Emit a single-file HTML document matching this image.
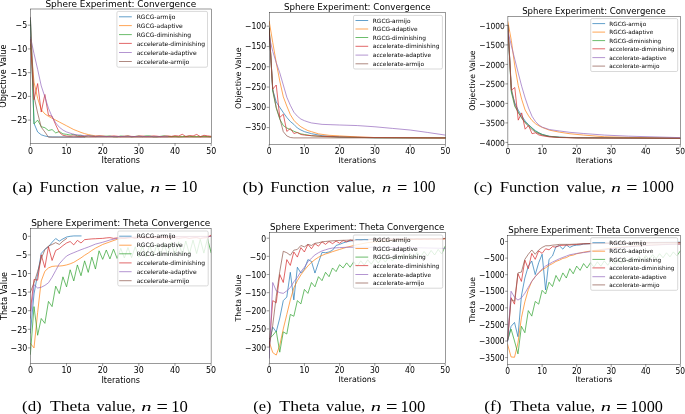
<!DOCTYPE html>
<html><head><meta charset="utf-8"><title>Sphere Experiment</title>
<style>html,body{margin:0;padding:0;background:#fff;}svg{display:block;}</style></head>
<body>
<svg width="685" height="414" viewBox="0 0 685 414">
<rect width="685" height="414" fill="#fff"/>
<g>
<clipPath id="cpa"><rect x="30.4" y="9" width="180.8" height="134.3"/></clipPath>
<g clip-path="url(#cpa)" fill="none" stroke-width="0.7" stroke-linejoin="round" stroke-linecap="square">
<polyline points="30.4,18.08 34.02,123.42 37.63,131.96 41.25,134.81 44.86,136 48.48,136.71 52.1,136.94 84.64,136.99" stroke="#1f77b4"/>
<polyline points="30.4,44.18 34.02,82.14 37.63,98.27 41.25,109.66 44.86,113.93 48.48,116.3 52.1,118.2 55.71,120.1 59.33,122 62.94,123.9 66.56,125.79 70.18,127.69 73.79,129.59 77.41,131.01 81.02,132.44 84.64,133.62 88.26,134.57 91.87,135.28 95.49,135.76 102.72,136.33 120.8,136.71 211.2,136.71" stroke="#ff7f0e"/>
<polyline points="30.4,20.45 34.02,123.9 37.63,120.1 41.25,126.74 44.86,127.69 48.48,130.54 52.1,129.59 55.71,132.91 59.33,131.49 62.94,133.86 66.56,134.33 70.18,135.05 73.79,134.33 77.41,135.76 81.02,135.28 84.64,136.74 88.26,135.93 91.87,136.03 95.49,136.61 99.1,136.33 102.72,136.39 106.34,136.16 109.95,136 113.57,136.79 117.18,136.87 120.8,135.95 124.42,136.4 128.03,136.03 131.65,136.89 135.26,136.39 138.88,136.08 142.5,136.64 146.11,135.82 149.73,135.87 153.34,136.86 156.96,136.87 160.58,136.28 164.19,135.83 167.81,136.46 171.42,136.65 175.04,136.42 178.66,136.86 182.27,136.64 185.89,136.4 189.5,136.33 193.12,136.63 196.74,136.63 200.35,136.65 203.97,136.37 207.58,136.57 211.2,136.87" stroke="#2ca02c"/>
<polyline points="30.4,39.44 34.02,99.7 37.63,83.56 41.25,112.03 44.86,94.48 48.48,115.36 52.1,116.3 55.71,124.84 59.33,132.44 62.94,135.28 66.56,136 70.18,136.29 73.79,135.85 77.41,136.27 81.02,136.6 84.64,136.1 88.26,135.9 91.87,136.46 95.49,136.51 99.1,135.94 102.72,136.03 106.34,136.58 109.95,136.34 113.57,135.86 117.18,136.22 120.8,136.61 124.42,136.15 128.03,135.88 131.65,136.41 135.26,136.55 138.88,135.98 142.5,135.99 146.11,136.55 149.73,136.4 153.34,135.87 156.96,136.16 160.58,136.61 164.19,136.21 167.81,135.86 171.42,136.35 175.04,135.62 178.66,136.02 182.27,134.29 185.89,136.52 189.5,135.5 193.12,135.89 196.74,134.45 200.35,136.6 203.97,135.31 207.58,135.85 211.2,136.3" stroke="#d62728"/>
<polyline points="30.4,37.06 34.02,53.67 37.63,69.33 41.25,85.94 44.86,96.85 48.48,108.24 52.1,116.78 55.71,122.95 59.33,127.22 62.94,130.06 66.56,131.96 73.79,134.33 84.64,135.76 102.72,136.47 167.81,136.71" stroke="#9467bd"/>
<polyline points="30.4,17.37 34.02,96.37 37.63,112.98 41.25,127.22 44.86,131.96 48.48,137.18 211.2,137.18" stroke="#8c564b"/>
</g>
<rect x="30.4" y="9" width="180.8" height="134.3" fill="none" stroke="#000" stroke-width="0.4"/>
<line x1="30.4" y1="143.3" x2="30.4" y2="145.9" stroke="#000" stroke-width="0.4"/>
<text transform="translate(30.4,153.5) scale(1,1.12)" font-family="'DejaVu Sans', 'Liberation Sans', sans-serif" font-size="7.9" text-anchor="middle" fill="#000" >0</text>
<line x1="66.56" y1="143.3" x2="66.56" y2="145.9" stroke="#000" stroke-width="0.4"/>
<text transform="translate(66.56,153.5) scale(1,1.12)" font-family="'DejaVu Sans', 'Liberation Sans', sans-serif" font-size="7.9" text-anchor="middle" fill="#000" >10</text>
<line x1="102.72" y1="143.3" x2="102.72" y2="145.9" stroke="#000" stroke-width="0.4"/>
<text transform="translate(102.72,153.5) scale(1,1.12)" font-family="'DejaVu Sans', 'Liberation Sans', sans-serif" font-size="7.9" text-anchor="middle" fill="#000" >20</text>
<line x1="138.88" y1="143.3" x2="138.88" y2="145.9" stroke="#000" stroke-width="0.4"/>
<text transform="translate(138.88,153.5) scale(1,1.12)" font-family="'DejaVu Sans', 'Liberation Sans', sans-serif" font-size="7.9" text-anchor="middle" fill="#000" >30</text>
<line x1="175.04" y1="143.3" x2="175.04" y2="145.9" stroke="#000" stroke-width="0.4"/>
<text transform="translate(175.04,153.5) scale(1,1.12)" font-family="'DejaVu Sans', 'Liberation Sans', sans-serif" font-size="7.9" text-anchor="middle" fill="#000" >40</text>
<line x1="211.2" y1="143.3" x2="211.2" y2="145.9" stroke="#000" stroke-width="0.4"/>
<text transform="translate(211.2,153.5) scale(1,1.12)" font-family="'DejaVu Sans', 'Liberation Sans', sans-serif" font-size="7.9" text-anchor="middle" fill="#000" >50</text>
<line x1="27.8" y1="25.2" x2="30.4" y2="25.2" stroke="#000" stroke-width="0.4"/>
<text transform="translate(27.2,28.1) scale(1,1.12)" font-family="'DejaVu Sans', 'Liberation Sans', sans-serif" font-size="7.9" text-anchor="end" fill="#000" >−5</text>
<line x1="27.8" y1="48.92" x2="30.4" y2="48.92" stroke="#000" stroke-width="0.4"/>
<text transform="translate(27.2,51.82) scale(1,1.12)" font-family="'DejaVu Sans', 'Liberation Sans', sans-serif" font-size="7.9" text-anchor="end" fill="#000" >−10</text>
<line x1="27.8" y1="72.65" x2="30.4" y2="72.65" stroke="#000" stroke-width="0.4"/>
<text transform="translate(27.2,75.55) scale(1,1.12)" font-family="'DejaVu Sans', 'Liberation Sans', sans-serif" font-size="7.9" text-anchor="end" fill="#000" >−15</text>
<line x1="27.8" y1="96.37" x2="30.4" y2="96.37" stroke="#000" stroke-width="0.4"/>
<text transform="translate(27.2,99.27) scale(1,1.12)" font-family="'DejaVu Sans', 'Liberation Sans', sans-serif" font-size="7.9" text-anchor="end" fill="#000" >−20</text>
<line x1="27.8" y1="120.1" x2="30.4" y2="120.1" stroke="#000" stroke-width="0.4"/>
<text transform="translate(27.2,123) scale(1,1.12)" font-family="'DejaVu Sans', 'Liberation Sans', sans-serif" font-size="7.9" text-anchor="end" fill="#000" >−25</text>
<text x="120.8" y="162.8" font-family="'DejaVu Sans', 'Liberation Sans', sans-serif" font-size="8.1" text-anchor="middle" fill="#000" >Iterations</text>
<text transform="translate(6,76.15) rotate(-90) scale(1,1.0)" font-family="'DejaVu Sans', 'Liberation Sans', sans-serif" font-size="8.1" text-anchor="middle" fill="#000" >Objective Value</text>
<text transform="translate(120.8,6.6) scale(1,0.9)" font-family="'DejaVu Sans', 'Liberation Sans', sans-serif" font-size="8.95" text-anchor="middle" fill="#000" >Sphere Experiment: Convergence</text>
<rect x="116.9" y="11.4" width="90.6" height="55.8" rx="1.5" fill="#fff" fill-opacity="0.8" stroke="#c8c8c8" stroke-width="0.7"/>
<line x1="119" y1="16.8" x2="131.8" y2="16.8" stroke="#1f77b4" stroke-width="0.7"/>
<text x="136.7" y="19" font-family="'DejaVu Sans', 'Liberation Sans', sans-serif" font-size="6" text-anchor="start" fill="#000" >RGCG-armijo</text>
<line x1="119" y1="25.6" x2="131.8" y2="25.6" stroke="#ff7f0e" stroke-width="0.7"/>
<text x="136.7" y="27.8" font-family="'DejaVu Sans', 'Liberation Sans', sans-serif" font-size="6" text-anchor="start" fill="#000" >RGCG-adaptive</text>
<line x1="119" y1="34.6" x2="131.8" y2="34.6" stroke="#2ca02c" stroke-width="0.7"/>
<text x="136.7" y="36.8" font-family="'DejaVu Sans', 'Liberation Sans', sans-serif" font-size="6" text-anchor="start" fill="#000" >RGCG-diminishing</text>
<line x1="119" y1="43.4" x2="131.8" y2="43.4" stroke="#d62728" stroke-width="0.7"/>
<text x="136.7" y="45.6" font-family="'DejaVu Sans', 'Liberation Sans', sans-serif" font-size="6" text-anchor="start" fill="#000" >accelerate-diminishing</text>
<line x1="119" y1="52.5" x2="131.8" y2="52.5" stroke="#9467bd" stroke-width="0.7"/>
<text x="136.7" y="54.7" font-family="'DejaVu Sans', 'Liberation Sans', sans-serif" font-size="6" text-anchor="start" fill="#000" >accelerate-adaptive</text>
<line x1="119" y1="61.5" x2="131.8" y2="61.5" stroke="#8c564b" stroke-width="0.7"/>
<text x="136.7" y="63.7" font-family="'DejaVu Sans', 'Liberation Sans', sans-serif" font-size="6" text-anchor="start" fill="#000" >accelerate-armijo</text>
</g>
<g>
<clipPath id="cpb"><rect x="269.2" y="12.2" width="176.2" height="132"/></clipPath>
<g clip-path="url(#cpb)" fill="none" stroke-width="0.7" stroke-linejoin="round" stroke-linecap="square">
<polyline points="269.2,28.23 272.72,89.88 276.25,102.05 279.77,107.32 283.3,112.59 286.82,117.46 290.34,121.52 293.87,124.36 297.39,128.01 300.92,130.03 304.44,131.66 307.96,132.67 311.49,133.68 322.06,135.71 339.68,136.93 374.92,137.74 445.4,137.94" stroke="#1f77b4"/>
<polyline points="269.2,21.33 272.72,42.42 276.25,62.7 279.77,80.96 283.3,96.77 286.82,106.1 290.34,114.62 293.87,120.3 297.39,123.95 300.92,126.79 304.44,128.82 307.96,130.64 311.49,131.66 318.54,133.89 329.11,135.31 339.68,135.91 357.3,136.93 374.92,137.54 445.4,137.94" stroke="#ff7f0e"/>
<polyline points="269.2,28.23 272.72,91.1 276.25,108.13 279.77,119.08 283.3,125.57 286.82,128.01 290.34,129.63 293.87,131.25 297.39,132.67 300.92,133.89 304.44,134.5 311.49,135.71 322.06,136.52 339.68,137.13 374.92,137.74 445.4,137.94" stroke="#2ca02c"/>
<polyline points="269.2,29.44 272.72,89.07 276.25,85.01 279.77,117.46 283.3,114.22 286.82,131.45 290.34,128.41 293.87,133.48 297.39,132.47 300.92,134.5 304.44,135.1 311.49,135.71 322.06,136.32 339.68,136.93 374.92,137.54 445.4,137.94" stroke="#d62728"/>
<polyline points="269.2,36.34 272.72,51.35 276.25,62.7 279.77,72.84 283.3,85.01 286.82,97.18 290.34,105.29 293.87,112.19 297.39,116.24 300.92,119.08 304.44,120.7 307.96,121.92 311.49,122.94 322.06,124.36 339.68,125 357.3,125.57 374.92,126.79 392.54,128.41 410.16,130.03 427.78,132.47 445.4,135.1" stroke="#9467bd"/>
<polyline points="269.2,27.82 272.72,89.07 276.25,107.32 279.77,118.27 283.3,131.66 286.82,135.91 290.34,137.5 293.87,137.9 445.4,137.94" stroke="#8c564b"/>
</g>
<rect x="269.2" y="12.2" width="176.2" height="132" fill="none" stroke="#000" stroke-width="0.4"/>
<line x1="269.2" y1="144.2" x2="269.2" y2="146.73" stroke="#000" stroke-width="0.4"/>
<text transform="translate(269.2,153.56) scale(1,1.12)" font-family="'DejaVu Sans', 'Liberation Sans', sans-serif" font-size="7.7" text-anchor="middle" fill="#000" >0</text>
<line x1="304.44" y1="144.2" x2="304.44" y2="146.73" stroke="#000" stroke-width="0.4"/>
<text transform="translate(304.44,153.56) scale(1,1.12)" font-family="'DejaVu Sans', 'Liberation Sans', sans-serif" font-size="7.7" text-anchor="middle" fill="#000" >10</text>
<line x1="339.68" y1="144.2" x2="339.68" y2="146.73" stroke="#000" stroke-width="0.4"/>
<text transform="translate(339.68,153.56) scale(1,1.12)" font-family="'DejaVu Sans', 'Liberation Sans', sans-serif" font-size="7.7" text-anchor="middle" fill="#000" >20</text>
<line x1="374.92" y1="144.2" x2="374.92" y2="146.73" stroke="#000" stroke-width="0.4"/>
<text transform="translate(374.92,153.56) scale(1,1.12)" font-family="'DejaVu Sans', 'Liberation Sans', sans-serif" font-size="7.7" text-anchor="middle" fill="#000" >30</text>
<line x1="410.16" y1="144.2" x2="410.16" y2="146.73" stroke="#000" stroke-width="0.4"/>
<text transform="translate(410.16,153.56) scale(1,1.12)" font-family="'DejaVu Sans', 'Liberation Sans', sans-serif" font-size="7.7" text-anchor="middle" fill="#000" >40</text>
<line x1="445.4" y1="144.2" x2="445.4" y2="146.73" stroke="#000" stroke-width="0.4"/>
<text transform="translate(445.4,153.56) scale(1,1.12)" font-family="'DejaVu Sans', 'Liberation Sans', sans-serif" font-size="7.7" text-anchor="middle" fill="#000" >50</text>
<line x1="266.67" y1="26.2" x2="269.2" y2="26.2" stroke="#000" stroke-width="0.4"/>
<text transform="translate(266.07,29.03) scale(1,1.12)" font-family="'DejaVu Sans', 'Liberation Sans', sans-serif" font-size="7.7" text-anchor="end" fill="#000" >−100</text>
<line x1="266.67" y1="46.48" x2="269.2" y2="46.48" stroke="#000" stroke-width="0.4"/>
<text transform="translate(266.07,49.31) scale(1,1.12)" font-family="'DejaVu Sans', 'Liberation Sans', sans-serif" font-size="7.7" text-anchor="end" fill="#000" >−150</text>
<line x1="266.67" y1="66.76" x2="269.2" y2="66.76" stroke="#000" stroke-width="0.4"/>
<text transform="translate(266.07,69.59) scale(1,1.12)" font-family="'DejaVu Sans', 'Liberation Sans', sans-serif" font-size="7.7" text-anchor="end" fill="#000" >−200</text>
<line x1="266.67" y1="87.04" x2="269.2" y2="87.04" stroke="#000" stroke-width="0.4"/>
<text transform="translate(266.07,89.87) scale(1,1.12)" font-family="'DejaVu Sans', 'Liberation Sans', sans-serif" font-size="7.7" text-anchor="end" fill="#000" >−250</text>
<line x1="266.67" y1="107.32" x2="269.2" y2="107.32" stroke="#000" stroke-width="0.4"/>
<text transform="translate(266.07,110.15) scale(1,1.12)" font-family="'DejaVu Sans', 'Liberation Sans', sans-serif" font-size="7.7" text-anchor="end" fill="#000" >−300</text>
<line x1="266.67" y1="127.6" x2="269.2" y2="127.6" stroke="#000" stroke-width="0.4"/>
<text transform="translate(266.07,130.43) scale(1,1.12)" font-family="'DejaVu Sans', 'Liberation Sans', sans-serif" font-size="7.7" text-anchor="end" fill="#000" >−350</text>
<text x="357.3" y="163.2" font-family="'DejaVu Sans', 'Liberation Sans', sans-serif" font-size="7.89" text-anchor="middle" fill="#000" >Iterations</text>
<text transform="translate(241.3,78.2) rotate(-90) scale(1,1.0)" font-family="'DejaVu Sans', 'Liberation Sans', sans-serif" font-size="7.89" text-anchor="middle" fill="#000" >Objective Value</text>
<text transform="translate(357.3,9.85) scale(1,0.9)" font-family="'DejaVu Sans', 'Liberation Sans', sans-serif" font-size="8.72" text-anchor="middle" fill="#000" >Sphere Experiment: Convergence</text>
<rect x="353.5" y="15.4" width="88.9" height="53.6" rx="1.46" fill="#fff" fill-opacity="0.8" stroke="#c8c8c8" stroke-width="0.7"/>
<line x1="355.5" y1="20.5" x2="368.2" y2="20.5" stroke="#1f77b4" stroke-width="0.7"/>
<text x="372.8" y="22.64" font-family="'DejaVu Sans', 'Liberation Sans', sans-serif" font-size="5.85" text-anchor="start" fill="#000" >RGCG-armijo</text>
<line x1="355.5" y1="29" x2="368.2" y2="29" stroke="#ff7f0e" stroke-width="0.7"/>
<text x="372.8" y="31.14" font-family="'DejaVu Sans', 'Liberation Sans', sans-serif" font-size="5.85" text-anchor="start" fill="#000" >RGCG-adaptive</text>
<line x1="355.5" y1="37.5" x2="368.2" y2="37.5" stroke="#2ca02c" stroke-width="0.7"/>
<text x="372.8" y="39.64" font-family="'DejaVu Sans', 'Liberation Sans', sans-serif" font-size="5.85" text-anchor="start" fill="#000" >RGCG-diminishing</text>
<line x1="355.5" y1="46.3" x2="368.2" y2="46.3" stroke="#d62728" stroke-width="0.7"/>
<text x="372.8" y="48.44" font-family="'DejaVu Sans', 'Liberation Sans', sans-serif" font-size="5.85" text-anchor="start" fill="#000" >accelerate-diminishing</text>
<line x1="355.5" y1="55.1" x2="368.2" y2="55.1" stroke="#9467bd" stroke-width="0.7"/>
<text x="372.8" y="57.24" font-family="'DejaVu Sans', 'Liberation Sans', sans-serif" font-size="5.85" text-anchor="start" fill="#000" >accelerate-adaptive</text>
<line x1="355.5" y1="63.8" x2="368.2" y2="63.8" stroke="#8c564b" stroke-width="0.7"/>
<text x="372.8" y="65.94" font-family="'DejaVu Sans', 'Liberation Sans', sans-serif" font-size="5.85" text-anchor="start" fill="#000" >accelerate-armijo</text>
</g>
<g>
<clipPath id="cpc"><rect x="507.9" y="16.3" width="172.3" height="128.5"/></clipPath>
<g clip-path="url(#cpc)" fill="none" stroke-width="0.7" stroke-linejoin="round" stroke-linecap="square">
<polyline points="507.9,25.4 511.35,91.15 514.79,102.89 518.24,110.15 521.68,115.61 525.13,121.03 528.58,124.66 532.02,127.89 535.47,130.7 538.91,132.84 542.36,134.41 549.25,136.28 559.59,137.17 576.82,137.8 680.2,138.31" stroke="#1f77b4"/>
<polyline points="507.9,21.81 511.35,40.61 514.79,65.96 518.24,85.58 521.68,99.31 525.13,110.03 528.58,115.88 532.02,120.56 535.47,123.68 538.91,125.82 542.36,127.5 549.25,130.12 559.59,132.18 569.93,133.74 583.71,135.07 604.39,136.75 628.51,137.41 680.2,138.03" stroke="#ff7f0e"/>
<polyline points="507.9,25.4 511.35,92.09 514.79,106.52 518.24,111.98 521.68,118.22 525.13,122.12 528.58,125.24 532.02,128.36 535.47,131.28 538.91,133.04 542.36,134.6 549.25,136.35 559.59,137.25 576.82,137.88 680.2,138.31" stroke="#2ca02c"/>
<polyline points="507.9,25.4 511.35,90.22 514.79,87.53 518.24,120.13 521.68,112.88 525.13,129.18 528.58,125.55 532.02,133.7 535.47,132.81 538.91,134.99 542.36,135.77 549.25,136.86 559.59,137.53 576.82,138.03 680.2,138.31" stroke="#d62728"/>
<polyline points="507.9,31.02 511.35,45.68 514.79,59.33 518.24,72.98 521.68,86.24 525.13,97.94 528.58,108.08 532.02,116.27 535.47,121.53 538.91,125.04 542.36,127.19 549.25,129.53 559.59,130.97 569.93,132.34 583.71,133.51 604.39,135.07 628.51,136.16 680.2,137.64" stroke="#9467bd"/>
<polyline points="507.9,25.4 511.35,87.8 514.79,104.57 518.24,112.76 521.68,117.44 525.13,122.9 528.58,126.41 532.02,129.53 535.47,132.26 542.36,135.19 549.25,136.55 559.59,137.41 680.2,138.31" stroke="#8c564b"/>
</g>
<rect x="507.9" y="16.3" width="172.3" height="128.5" fill="none" stroke="#000" stroke-width="0.4"/>
<line x1="507.9" y1="144.8" x2="507.9" y2="147.28" stroke="#000" stroke-width="0.4"/>
<text transform="translate(507.9,153.95) scale(1,1.12)" font-family="'DejaVu Sans', 'Liberation Sans', sans-serif" font-size="7.53" text-anchor="middle" fill="#000" >0</text>
<line x1="542.36" y1="144.8" x2="542.36" y2="147.28" stroke="#000" stroke-width="0.4"/>
<text transform="translate(542.36,153.95) scale(1,1.12)" font-family="'DejaVu Sans', 'Liberation Sans', sans-serif" font-size="7.53" text-anchor="middle" fill="#000" >10</text>
<line x1="576.82" y1="144.8" x2="576.82" y2="147.28" stroke="#000" stroke-width="0.4"/>
<text transform="translate(576.82,153.95) scale(1,1.12)" font-family="'DejaVu Sans', 'Liberation Sans', sans-serif" font-size="7.53" text-anchor="middle" fill="#000" >20</text>
<line x1="611.28" y1="144.8" x2="611.28" y2="147.28" stroke="#000" stroke-width="0.4"/>
<text transform="translate(611.28,153.95) scale(1,1.12)" font-family="'DejaVu Sans', 'Liberation Sans', sans-serif" font-size="7.53" text-anchor="middle" fill="#000" >30</text>
<line x1="645.74" y1="144.8" x2="645.74" y2="147.28" stroke="#000" stroke-width="0.4"/>
<text transform="translate(645.74,153.95) scale(1,1.12)" font-family="'DejaVu Sans', 'Liberation Sans', sans-serif" font-size="7.53" text-anchor="middle" fill="#000" >40</text>
<line x1="680.2" y1="144.8" x2="680.2" y2="147.28" stroke="#000" stroke-width="0.4"/>
<text transform="translate(680.2,153.95) scale(1,1.12)" font-family="'DejaVu Sans', 'Liberation Sans', sans-serif" font-size="7.53" text-anchor="middle" fill="#000" >50</text>
<line x1="505.42" y1="25.4" x2="507.9" y2="25.4" stroke="#000" stroke-width="0.4"/>
<text transform="translate(504.82,28.56) scale(1,1.12)" font-family="'DejaVu Sans', 'Liberation Sans', sans-serif" font-size="7.53" text-anchor="end" fill="#000" >−1000</text>
<line x1="505.42" y1="44.9" x2="507.9" y2="44.9" stroke="#000" stroke-width="0.4"/>
<text transform="translate(504.82,48.06) scale(1,1.12)" font-family="'DejaVu Sans', 'Liberation Sans', sans-serif" font-size="7.53" text-anchor="end" fill="#000" >−1500</text>
<line x1="505.42" y1="64.4" x2="507.9" y2="64.4" stroke="#000" stroke-width="0.4"/>
<text transform="translate(504.82,67.56) scale(1,1.12)" font-family="'DejaVu Sans', 'Liberation Sans', sans-serif" font-size="7.53" text-anchor="end" fill="#000" >−2000</text>
<line x1="505.42" y1="83.9" x2="507.9" y2="83.9" stroke="#000" stroke-width="0.4"/>
<text transform="translate(504.82,87.06) scale(1,1.12)" font-family="'DejaVu Sans', 'Liberation Sans', sans-serif" font-size="7.53" text-anchor="end" fill="#000" >−2500</text>
<line x1="505.42" y1="103.4" x2="507.9" y2="103.4" stroke="#000" stroke-width="0.4"/>
<text transform="translate(504.82,106.56) scale(1,1.12)" font-family="'DejaVu Sans', 'Liberation Sans', sans-serif" font-size="7.53" text-anchor="end" fill="#000" >−3000</text>
<line x1="505.42" y1="122.9" x2="507.9" y2="122.9" stroke="#000" stroke-width="0.4"/>
<text transform="translate(504.82,126.06) scale(1,1.12)" font-family="'DejaVu Sans', 'Liberation Sans', sans-serif" font-size="7.53" text-anchor="end" fill="#000" >−3500</text>
<line x1="505.42" y1="142.4" x2="507.9" y2="142.4" stroke="#000" stroke-width="0.4"/>
<text transform="translate(504.82,145.56) scale(1,1.12)" font-family="'DejaVu Sans', 'Liberation Sans', sans-serif" font-size="7.53" text-anchor="end" fill="#000" >−4000</text>
<text x="594.05" y="162.8" font-family="'DejaVu Sans', 'Liberation Sans', sans-serif" font-size="7.72" text-anchor="middle" fill="#000" >Iterations</text>
<text transform="translate(475.3,80.55) rotate(-90) scale(1,1.0)" font-family="'DejaVu Sans', 'Liberation Sans', sans-serif" font-size="7.72" text-anchor="middle" fill="#000" >Objective Value</text>
<text x="594.05" y="14" font-family="'DejaVu Sans', 'Liberation Sans', sans-serif" font-size="8.53" text-anchor="middle" fill="#000" >Sphere Experiment: Convergence</text>
<rect x="590.7" y="18.6" width="87" height="52.9" rx="1.43" fill="#fff" fill-opacity="0.8" stroke="#c8c8c8" stroke-width="0.7"/>
<line x1="592.4" y1="23.6" x2="605.1" y2="23.6" stroke="#1f77b4" stroke-width="0.7"/>
<text x="609.3" y="25.7" font-family="'DejaVu Sans', 'Liberation Sans', sans-serif" font-size="5.72" text-anchor="start" fill="#000" >RGCG-armijo</text>
<line x1="592.4" y1="32.1" x2="605.1" y2="32.1" stroke="#ff7f0e" stroke-width="0.7"/>
<text x="609.3" y="34.2" font-family="'DejaVu Sans', 'Liberation Sans', sans-serif" font-size="5.72" text-anchor="start" fill="#000" >RGCG-adaptive</text>
<line x1="592.4" y1="40.6" x2="605.1" y2="40.6" stroke="#2ca02c" stroke-width="0.7"/>
<text x="609.3" y="42.7" font-family="'DejaVu Sans', 'Liberation Sans', sans-serif" font-size="5.72" text-anchor="start" fill="#000" >RGCG-diminishing</text>
<line x1="592.4" y1="48.8" x2="605.1" y2="48.8" stroke="#d62728" stroke-width="0.7"/>
<text x="609.3" y="50.9" font-family="'DejaVu Sans', 'Liberation Sans', sans-serif" font-size="5.72" text-anchor="start" fill="#000" >accelerate-diminishing</text>
<line x1="592.4" y1="57.6" x2="605.1" y2="57.6" stroke="#9467bd" stroke-width="0.7"/>
<text x="609.3" y="59.7" font-family="'DejaVu Sans', 'Liberation Sans', sans-serif" font-size="5.72" text-anchor="start" fill="#000" >accelerate-adaptive</text>
<line x1="592.4" y1="66.1" x2="605.1" y2="66.1" stroke="#8c564b" stroke-width="0.7"/>
<text x="609.3" y="68.2" font-family="'DejaVu Sans', 'Liberation Sans', sans-serif" font-size="5.72" text-anchor="start" fill="#000" >accelerate-armijo</text>
</g>
<g>
<clipPath id="cpd"><rect x="30.4" y="228.6" width="180.7" height="134.8"/></clipPath>
<g clip-path="url(#cpd)" fill="none" stroke-width="0.7" stroke-linejoin="round" stroke-linecap="square">
<polyline points="30.4,333.02 34.01,293.96 37.63,274.24 41.24,253.41 44.86,249.32 48.47,246.72 52.08,242.25 55.7,238.53 59.31,241.14 62.93,238.9 66.54,237.04 70.15,236.3 73.77,235.93 81,235.93" stroke="#1f77b4"/>
<polyline points="30.4,343.44 34.01,347.9 37.63,312.56 41.24,280.94 44.86,271.27 48.47,267.92 52.08,266.43 55.7,266.06 59.31,266.06 62.93,265.69 66.54,264.94 70.15,263.83 73.77,262.34 77.38,260.11 81,257.88 84.61,255.27 88.22,253.04 91.84,250.44 95.45,248.2 99.07,246.34 102.68,244.48 109.91,241.88 117.14,239.28 124.36,237.97 138.82,237.04 174.96,236.49 211.1,236.3" stroke="#ff7f0e"/>
<polyline points="30.4,354.22 34.01,306.61 37.63,335.25 41.24,318.51 44.86,323.35 48.47,301.4 52.08,306.61 55.7,286.15 59.31,293.59 62.93,276.85 66.54,286.89 70.15,269.78 73.77,280.94 77.38,264.94 81,275.73 84.61,260.85 88.22,272.38 91.84,257.13 95.45,269.04 99.07,250.81 102.68,259.36 106.29,249.99 109.91,258.92 113.52,249.17 117.14,258.47 120.75,248.35 124.36,258.02 127.98,247.53 131.59,257.58 135.21,246.72 138.82,257.13 142.43,245.9 146.05,256.69 149.66,245.08 153.28,256.24 156.89,244.26 160.5,255.79 164.12,243.44 167.73,255.35 171.35,242.62 174.96,254.9 178.57,241.81 182.19,254.45 185.8,240.99 189.42,254.01 193.03,240.17 196.64,253.56 200.26,239.35 203.87,253.11 207.49,238.53 211.1,252.67" stroke="#2ca02c"/>
<polyline points="30.4,310.7 34.01,279.45 37.63,280.2 41.24,254.9 44.86,267.55 48.47,246.72 52.08,260.48 55.7,250.44 59.31,248.58 62.93,245.6 66.54,243 70.15,241.51 73.77,244.86 77.38,240.39 81,243 84.61,239.65 88.22,239.28 91.84,238.9 95.45,238.72 99.07,238.53 102.68,238.38 106.29,237.92 109.91,237.62 113.52,238.39 117.14,237.91 120.75,237.62 124.36,238.39 127.98,237.91 131.59,237.63 135.21,238.39 138.82,237.9 142.43,237.63 146.05,238.39 149.66,237.89 153.28,237.64 156.89,238.4 160.5,237.88 164.12,237.64 167.73,238.4 171.35,237.88 174.96,237.65 178.57,238.4 182.19,237.87 185.8,237.65 189.42,238.4 193.03,237.86 196.64,237.66 200.26,238.41 203.87,237.86 207.49,237.66 211.1,235" stroke="#d62728"/>
<polyline points="30.4,318.14 34.01,284.66 37.63,288.01 41.24,287.26 44.86,285.4 48.47,282.8 52.08,277.22 55.7,270.52 59.31,263.83 62.93,259.74 66.54,256.02 70.15,254.16 73.77,252.67 77.38,251.18 81,249.69 84.61,248.39 88.22,247.09 95.45,244.11 102.68,242.25 109.91,240.02 117.14,238.35 127.98,237.42 138.82,237.04 174.96,236.67 211.1,236.49" stroke="#9467bd"/>
<polyline points="30.4,292.1 34.01,282.8 37.63,271.64 41.24,258.62 44.86,249.69 48.47,245.97 52.08,244.48 55.7,242.62 59.31,244.48 62.93,241.14 66.54,238.53" stroke="#8c564b"/>
</g>
<rect x="30.4" y="228.6" width="180.7" height="134.8" fill="none" stroke="#000" stroke-width="0.4"/>
<line x1="30.4" y1="363.4" x2="30.4" y2="366" stroke="#000" stroke-width="0.4"/>
<text transform="translate(30.4,372.99) scale(1,1.12)" font-family="'DejaVu Sans', 'Liberation Sans', sans-serif" font-size="7.9" text-anchor="middle" fill="#000" >0</text>
<line x1="66.54" y1="363.4" x2="66.54" y2="366" stroke="#000" stroke-width="0.4"/>
<text transform="translate(66.54,372.99) scale(1,1.12)" font-family="'DejaVu Sans', 'Liberation Sans', sans-serif" font-size="7.9" text-anchor="middle" fill="#000" >10</text>
<line x1="102.68" y1="363.4" x2="102.68" y2="366" stroke="#000" stroke-width="0.4"/>
<text transform="translate(102.68,372.99) scale(1,1.12)" font-family="'DejaVu Sans', 'Liberation Sans', sans-serif" font-size="7.9" text-anchor="middle" fill="#000" >20</text>
<line x1="138.82" y1="363.4" x2="138.82" y2="366" stroke="#000" stroke-width="0.4"/>
<text transform="translate(138.82,372.99) scale(1,1.12)" font-family="'DejaVu Sans', 'Liberation Sans', sans-serif" font-size="7.9" text-anchor="middle" fill="#000" >30</text>
<line x1="174.96" y1="363.4" x2="174.96" y2="366" stroke="#000" stroke-width="0.4"/>
<text transform="translate(174.96,372.99) scale(1,1.12)" font-family="'DejaVu Sans', 'Liberation Sans', sans-serif" font-size="7.9" text-anchor="middle" fill="#000" >40</text>
<line x1="211.1" y1="363.4" x2="211.1" y2="366" stroke="#000" stroke-width="0.4"/>
<text transform="translate(211.1,372.99) scale(1,1.12)" font-family="'DejaVu Sans', 'Liberation Sans', sans-serif" font-size="7.9" text-anchor="middle" fill="#000" >50</text>
<line x1="27.8" y1="236.3" x2="30.4" y2="236.3" stroke="#000" stroke-width="0.4"/>
<text transform="translate(27.2,239.7) scale(1,1.12)" font-family="'DejaVu Sans', 'Liberation Sans', sans-serif" font-size="7.9" text-anchor="end" fill="#000" >0</text>
<line x1="27.8" y1="254.9" x2="30.4" y2="254.9" stroke="#000" stroke-width="0.4"/>
<text transform="translate(27.2,258.3) scale(1,1.12)" font-family="'DejaVu Sans', 'Liberation Sans', sans-serif" font-size="7.9" text-anchor="end" fill="#000" >−5</text>
<line x1="27.8" y1="273.5" x2="30.4" y2="273.5" stroke="#000" stroke-width="0.4"/>
<text transform="translate(27.2,276.9) scale(1,1.12)" font-family="'DejaVu Sans', 'Liberation Sans', sans-serif" font-size="7.9" text-anchor="end" fill="#000" >−10</text>
<line x1="27.8" y1="292.1" x2="30.4" y2="292.1" stroke="#000" stroke-width="0.4"/>
<text transform="translate(27.2,295.5) scale(1,1.12)" font-family="'DejaVu Sans', 'Liberation Sans', sans-serif" font-size="7.9" text-anchor="end" fill="#000" >−15</text>
<line x1="27.8" y1="310.7" x2="30.4" y2="310.7" stroke="#000" stroke-width="0.4"/>
<text transform="translate(27.2,314.1) scale(1,1.12)" font-family="'DejaVu Sans', 'Liberation Sans', sans-serif" font-size="7.9" text-anchor="end" fill="#000" >−20</text>
<line x1="27.8" y1="329.3" x2="30.4" y2="329.3" stroke="#000" stroke-width="0.4"/>
<text transform="translate(27.2,332.7) scale(1,1.12)" font-family="'DejaVu Sans', 'Liberation Sans', sans-serif" font-size="7.9" text-anchor="end" fill="#000" >−25</text>
<line x1="27.8" y1="347.9" x2="30.4" y2="347.9" stroke="#000" stroke-width="0.4"/>
<text transform="translate(27.2,351.3) scale(1,1.12)" font-family="'DejaVu Sans', 'Liberation Sans', sans-serif" font-size="7.9" text-anchor="end" fill="#000" >−30</text>
<text x="120.75" y="382.5" font-family="'DejaVu Sans', 'Liberation Sans', sans-serif" font-size="8.1" text-anchor="middle" fill="#000" >Iterations</text>
<text transform="translate(6.5,296) rotate(-90) scale(1,1.0)" font-family="'DejaVu Sans', 'Liberation Sans', sans-serif" font-size="8.1" text-anchor="middle" fill="#000" >Theta Value</text>
<text transform="translate(120.75,226.1) scale(1,0.9)" font-family="'DejaVu Sans', 'Liberation Sans', sans-serif" font-size="8.95" text-anchor="middle" fill="#000" >Sphere Experiment: Theta Convergence</text>
<rect x="117.8" y="231" width="90.4" height="54.9" rx="1.5" fill="#fff" fill-opacity="0.8" stroke="#c8c8c8" stroke-width="0.7"/>
<line x1="119.2" y1="236.2" x2="131.6" y2="236.2" stroke="#1f77b4" stroke-width="0.7"/>
<text x="136.7" y="238.4" font-family="'DejaVu Sans', 'Liberation Sans', sans-serif" font-size="6" text-anchor="start" fill="#000" >RGCG-armijo</text>
<line x1="119.2" y1="245.2" x2="131.6" y2="245.2" stroke="#ff7f0e" stroke-width="0.7"/>
<text x="136.7" y="247.4" font-family="'DejaVu Sans', 'Liberation Sans', sans-serif" font-size="6" text-anchor="start" fill="#000" >RGCG-adaptive</text>
<line x1="119.2" y1="253.8" x2="131.6" y2="253.8" stroke="#2ca02c" stroke-width="0.7"/>
<text x="136.7" y="256" font-family="'DejaVu Sans', 'Liberation Sans', sans-serif" font-size="6" text-anchor="start" fill="#000" >RGCG-diminishing</text>
<line x1="119.2" y1="262.9" x2="131.6" y2="262.9" stroke="#d62728" stroke-width="0.7"/>
<text x="136.7" y="265.1" font-family="'DejaVu Sans', 'Liberation Sans', sans-serif" font-size="6" text-anchor="start" fill="#000" >accelerate-diminishing</text>
<line x1="119.2" y1="271.7" x2="131.6" y2="271.7" stroke="#9467bd" stroke-width="0.7"/>
<text x="136.7" y="273.9" font-family="'DejaVu Sans', 'Liberation Sans', sans-serif" font-size="6" text-anchor="start" fill="#000" >accelerate-adaptive</text>
<line x1="119.2" y1="280.7" x2="131.6" y2="280.7" stroke="#8c564b" stroke-width="0.7"/>
<text x="136.7" y="282.9" font-family="'DejaVu Sans', 'Liberation Sans', sans-serif" font-size="6" text-anchor="start" fill="#000" >accelerate-armijo</text>
</g>
<g>
<clipPath id="cpe"><rect x="269.2" y="232.2" width="176" height="131.2"/></clipPath>
<g clip-path="url(#cpe)" fill="none" stroke-width="0.7" stroke-linejoin="round" stroke-linecap="square">
<polyline points="269.2,343.47 272.72,327.13 276.24,331.85 279.76,318.06 283.28,300.64 286.8,297.01 290.32,272.32 293.84,299.91 297.36,267.24 300.88,273.05 304.4,269.06 307.92,259.62 311.44,261.43 314.96,273.05 318.48,262.52 322,252.36 325.52,252.72 329.04,251.99 332.56,250.18 336.08,245.46 339.6,244.37 343.12,242.92 346.64,241.83 350.16,241.1 353.68,240.38 357.2,239.65" stroke="#1f77b4"/>
<polyline points="269.2,341.66 272.72,352.55 276.24,355.09 279.76,345.29 283.28,328.95 286.8,314.43 290.32,299.91 293.84,287.93 297.36,280.67 300.88,274.86 304.4,270.14 307.92,265.97 311.44,262.34 314.96,259.62 318.48,257.26 322,255.44 325.52,253.99 329.04,252.9 332.56,251.63 336.08,250.54 339.6,249.45 346.64,247.27 357.2,244.73 367.76,242.56 381.84,241.1 395.92,240.01 410,239.47 427.6,239.11 445.2,238.93" stroke="#ff7f0e"/>
<polyline points="269.2,338.75 272.72,335.48 276.24,331.13 279.76,352.18 283.28,331.85 286.8,334.03 290.32,314.43 293.84,316.25 297.36,300.64 300.88,303.9 304.4,289.38 307.92,293.38 311.44,282.49 314.96,286.84 318.48,276.68 322,280.67 325.52,272.32 329.04,276.68 332.56,267.97 336.08,271.6 339.6,264.7 343.12,267.97 346.64,262.88 350.16,267.24 353.68,261.85 357.2,266.22 360.72,260.81 364.24,265.2 367.76,259.77 371.28,264.17 374.8,258.74 378.32,263.15 381.84,257.7 385.36,262.13 388.88,256.66 392.4,261.11 395.92,255.62 399.44,260.09 402.96,254.59 406.48,259.07 410,253.55 413.52,258.04 417.04,252.51 420.56,257.02 424.08,251.48 427.6,256 431.12,250.44 434.64,254.98 438.16,249.4 441.68,253.96 445.2,246.19" stroke="#2ca02c"/>
<polyline points="269.2,347.1 272.72,300.64 276.24,302.81 279.76,274.5 283.28,282.49 286.8,259.62 290.32,265.43 293.84,251.99 297.36,257.08 300.88,247.64 304.4,251.99 307.92,244.37 311.44,248.73 314.96,243.64 318.48,246.19 322,241.83 325.52,244.37 329.04,241.47 332.56,243.64 336.08,241.1 339.6,243.28 343.12,240.56 346.64,241.83 350.16,240.01 353.68,241.1 357.2,239.65 360.72,240.38 364.24,239.29 367.76,239.83 371.28,239.36 374.8,238.93 378.32,239.36 381.84,238.93 385.36,239.36 388.88,238.93 392.4,239.36 395.92,238.93 399.44,239.36 402.96,238.93 406.48,239.36 410,238.93 413.52,239.36 417.04,238.93 420.56,239.36 424.08,238.93 427.6,239.36 431.12,238.93 434.64,239.36 438.16,238.93 441.68,239.36 445.2,238.2" stroke="#d62728"/>
<polyline points="269.2,357.99 272.72,282.49 276.24,290.84 279.76,292.65 283.28,293.38 286.8,290.84 290.32,287.57 293.84,281.76 297.36,277.4 300.88,271.6 304.4,267.24 307.92,261.8 311.44,258.17 314.96,254.9 318.48,252.72 322,250.91 325.52,249.82 329.04,248.73 332.56,248 339.6,247.64 346.64,247.27 374.8,247.27 410,247.64 445.2,248.36" stroke="#9467bd"/>
<polyline points="269.2,347.1 272.72,325.32 276.24,296.28 279.76,271.6 283.28,251.27 286.8,252.72 290.32,255.26 293.84,250.18 297.36,249.45 300.88,245.46 304.4,246.91 307.92,244.37 311.44,245.46 314.96,243.28 318.48,242.77 322,241.83 325.52,241.47 329.04,241.1 336.08,240.56 346.64,240.23 360.72,239.65 374.8,239.11 410,238.74 445.2,238.56" stroke="#8c564b"/>
</g>
<rect x="269.2" y="232.2" width="176" height="131.2" fill="none" stroke="#000" stroke-width="0.4"/>
<line x1="269.2" y1="363.4" x2="269.2" y2="365.93" stroke="#000" stroke-width="0.4"/>
<text transform="translate(269.2,372.75) scale(1,1.12)" font-family="'DejaVu Sans', 'Liberation Sans', sans-serif" font-size="7.69" text-anchor="middle" fill="#000" >0</text>
<line x1="304.4" y1="363.4" x2="304.4" y2="365.93" stroke="#000" stroke-width="0.4"/>
<text transform="translate(304.4,372.75) scale(1,1.12)" font-family="'DejaVu Sans', 'Liberation Sans', sans-serif" font-size="7.69" text-anchor="middle" fill="#000" >10</text>
<line x1="339.6" y1="363.4" x2="339.6" y2="365.93" stroke="#000" stroke-width="0.4"/>
<text transform="translate(339.6,372.75) scale(1,1.12)" font-family="'DejaVu Sans', 'Liberation Sans', sans-serif" font-size="7.69" text-anchor="middle" fill="#000" >20</text>
<line x1="374.8" y1="363.4" x2="374.8" y2="365.93" stroke="#000" stroke-width="0.4"/>
<text transform="translate(374.8,372.75) scale(1,1.12)" font-family="'DejaVu Sans', 'Liberation Sans', sans-serif" font-size="7.69" text-anchor="middle" fill="#000" >30</text>
<line x1="410" y1="363.4" x2="410" y2="365.93" stroke="#000" stroke-width="0.4"/>
<text transform="translate(410,372.75) scale(1,1.12)" font-family="'DejaVu Sans', 'Liberation Sans', sans-serif" font-size="7.69" text-anchor="middle" fill="#000" >40</text>
<line x1="445.2" y1="363.4" x2="445.2" y2="365.93" stroke="#000" stroke-width="0.4"/>
<text transform="translate(445.2,372.75) scale(1,1.12)" font-family="'DejaVu Sans', 'Liberation Sans', sans-serif" font-size="7.69" text-anchor="middle" fill="#000" >50</text>
<line x1="266.67" y1="238.2" x2="269.2" y2="238.2" stroke="#000" stroke-width="0.4"/>
<text transform="translate(266.07,241.62) scale(1,1.12)" font-family="'DejaVu Sans', 'Liberation Sans', sans-serif" font-size="7.69" text-anchor="end" fill="#000" >0</text>
<line x1="266.67" y1="256.35" x2="269.2" y2="256.35" stroke="#000" stroke-width="0.4"/>
<text transform="translate(266.07,259.77) scale(1,1.12)" font-family="'DejaVu Sans', 'Liberation Sans', sans-serif" font-size="7.69" text-anchor="end" fill="#000" >−50</text>
<line x1="266.67" y1="274.5" x2="269.2" y2="274.5" stroke="#000" stroke-width="0.4"/>
<text transform="translate(266.07,277.92) scale(1,1.12)" font-family="'DejaVu Sans', 'Liberation Sans', sans-serif" font-size="7.69" text-anchor="end" fill="#000" >−100</text>
<line x1="266.67" y1="292.65" x2="269.2" y2="292.65" stroke="#000" stroke-width="0.4"/>
<text transform="translate(266.07,296.07) scale(1,1.12)" font-family="'DejaVu Sans', 'Liberation Sans', sans-serif" font-size="7.69" text-anchor="end" fill="#000" >−150</text>
<line x1="266.67" y1="310.8" x2="269.2" y2="310.8" stroke="#000" stroke-width="0.4"/>
<text transform="translate(266.07,314.22) scale(1,1.12)" font-family="'DejaVu Sans', 'Liberation Sans', sans-serif" font-size="7.69" text-anchor="end" fill="#000" >−200</text>
<line x1="266.67" y1="328.95" x2="269.2" y2="328.95" stroke="#000" stroke-width="0.4"/>
<text transform="translate(266.07,332.37) scale(1,1.12)" font-family="'DejaVu Sans', 'Liberation Sans', sans-serif" font-size="7.69" text-anchor="end" fill="#000" >−250</text>
<line x1="266.67" y1="347.1" x2="269.2" y2="347.1" stroke="#000" stroke-width="0.4"/>
<text transform="translate(266.07,350.52) scale(1,1.12)" font-family="'DejaVu Sans', 'Liberation Sans', sans-serif" font-size="7.69" text-anchor="end" fill="#000" >−300</text>
<text x="357.2" y="382" font-family="'DejaVu Sans', 'Liberation Sans', sans-serif" font-size="7.88" text-anchor="middle" fill="#000" >Iterations</text>
<text transform="translate(241.3,298.1) rotate(-90) scale(1,1.0)" font-family="'DejaVu Sans', 'Liberation Sans', sans-serif" font-size="7.88" text-anchor="middle" fill="#000" >Theta Value</text>
<text transform="translate(357.2,230) scale(1,0.9)" font-family="'DejaVu Sans', 'Liberation Sans', sans-serif" font-size="8.71" text-anchor="middle" fill="#000" >Sphere Experiment: Theta Convergence</text>
<rect x="353.4" y="235" width="89.3" height="53.2" rx="1.46" fill="#fff" fill-opacity="0.8" stroke="#c8c8c8" stroke-width="0.7"/>
<line x1="355.4" y1="239.7" x2="368.2" y2="239.7" stroke="#1f77b4" stroke-width="0.7"/>
<text x="372.9" y="241.84" font-family="'DejaVu Sans', 'Liberation Sans', sans-serif" font-size="5.84" text-anchor="start" fill="#000" >RGCG-armijo</text>
<line x1="355.4" y1="248.5" x2="368.2" y2="248.5" stroke="#ff7f0e" stroke-width="0.7"/>
<text x="372.9" y="250.64" font-family="'DejaVu Sans', 'Liberation Sans', sans-serif" font-size="5.84" text-anchor="start" fill="#000" >RGCG-adaptive</text>
<line x1="355.4" y1="257.1" x2="368.2" y2="257.1" stroke="#2ca02c" stroke-width="0.7"/>
<text x="372.9" y="259.24" font-family="'DejaVu Sans', 'Liberation Sans', sans-serif" font-size="5.84" text-anchor="start" fill="#000" >RGCG-diminishing</text>
<line x1="355.4" y1="265.6" x2="368.2" y2="265.6" stroke="#d62728" stroke-width="0.7"/>
<text x="372.9" y="267.74" font-family="'DejaVu Sans', 'Liberation Sans', sans-serif" font-size="5.84" text-anchor="start" fill="#000" >accelerate-diminishing</text>
<line x1="355.4" y1="274.5" x2="368.2" y2="274.5" stroke="#9467bd" stroke-width="0.7"/>
<text x="372.9" y="276.64" font-family="'DejaVu Sans', 'Liberation Sans', sans-serif" font-size="5.84" text-anchor="start" fill="#000" >accelerate-adaptive</text>
<line x1="355.4" y1="283" x2="368.2" y2="283" stroke="#8c564b" stroke-width="0.7"/>
<text x="372.9" y="285.14" font-family="'DejaVu Sans', 'Liberation Sans', sans-serif" font-size="5.84" text-anchor="start" fill="#000" >accelerate-armijo</text>
</g>
<g>
<clipPath id="cpf"><rect x="507.6" y="235.5" width="172.7" height="128.9"/></clipPath>
<g clip-path="url(#cpf)" fill="none" stroke-width="0.7" stroke-linejoin="round" stroke-linecap="square">
<polyline points="507.6,341.01 511.05,326.42 514.51,322.44 517.96,336.7 521.42,295.9 524.87,277.99 528.32,266.11 531.78,261.04 535.23,274.61 538.69,262.73 542.14,254.24 545.59,289.9 549.05,259.35 552.5,255.93 555.96,246.61 559.41,245.75 562.86,249.13 566.32,244.88 569.77,247.44 573.23,245.75 576.68,245.15 580.13,244.88 583.59,244.05 593.95,243.49 611.22,242.99 645.76,242.5 680.3,242.16" stroke="#1f77b4"/>
<polyline points="507.6,344.33 511.05,356.94 514.51,357.27 517.96,343 521.42,317.79 524.87,301.87 528.32,289.6 531.78,281.41 535.23,276.66 538.69,272.91 542.14,270.03 545.59,267.84 549.05,265.38 552.5,263.59 555.96,261.4 559.41,260.18 562.86,258.42 566.32,257.62 569.77,255.76 573.23,255.1 576.68,253.77 583.59,252.21 593.95,250.46 611.22,248.13 628.49,246.48 645.76,245.31 663.03,244.49 680.3,243.99" stroke="#ff7f0e"/>
<polyline points="507.6,340.09 511.05,329.04 514.51,341.01 517.96,353.92 521.42,326.29 524.87,332.72 528.32,310.6 531.78,316.14 535.23,301.41 538.69,304.16 542.14,290.33 545.59,294.01 549.05,282.27 552.5,286.51 555.96,275.47 559.41,281.41 562.86,272.91 566.32,278.02 569.77,268.67 573.23,273.78 576.68,266.11 580.13,270.36 583.59,263.59 587.04,268.04 590.5,262.69 593.95,267.1 597.4,261.79 600.86,266.17 604.31,260.89 607.77,265.24 611.22,259.99 614.67,264.3 618.13,259.09 621.58,263.37 625.04,258.19 628.49,262.43 631.94,257.29 635.4,261.5 638.85,256.39 642.31,260.57 645.76,255.49 649.21,259.63 652.67,254.59 656.12,258.7 659.58,253.69 663.03,257.77 666.48,252.79 669.94,256.83 673.39,251.89 676.85,255.9 680.3,250.99" stroke="#2ca02c"/>
<polyline points="507.6,340.09 511.05,297.69 514.51,304.16 517.96,273.78 521.42,281.41 524.87,260.18 528.32,268.67 531.78,253.38 535.23,259.35 538.69,250.85 542.14,253.38 545.59,248.8 549.05,249.79 552.5,246.61 555.96,247.14 559.41,245.48 566.32,245.15 576.68,244.49 583.59,243.82 593.95,243.49 611.22,243.16 645.76,242.83 680.3,242.66" stroke="#d62728"/>
<polyline points="507.6,341.01 511.05,291.26 514.51,297.23 517.96,300.08 521.42,297.89 524.87,293.25 528.32,287.28 531.78,281.31 535.23,276.66 538.69,272.68 542.14,269.03 545.59,266.05 549.05,264.06 552.5,262.07 555.96,260.41 559.41,258.75 562.86,257.42 566.32,256.1 569.77,254.77 573.23,254.11 576.68,253.44 583.59,252.55 593.95,251.12 611.22,248.8 628.49,246.81 645.76,245.48 663.03,244.65 680.3,244.15" stroke="#9467bd"/>
<polyline points="507.6,340.09 511.05,299.55 514.51,301.21 517.96,272.91 521.42,272.08 524.87,259.35 528.32,254.24 531.78,249.99 535.23,254.24 538.69,249.99 542.14,247.44 545.59,245.75 549.05,245.75 552.5,245.15 555.96,244.88 559.41,244.39 569.77,244.39 576.68,244.05 583.59,243.72 593.95,243.49 611.22,243.16 645.76,242.83 680.3,242.66" stroke="#8c564b"/>
</g>
<rect x="507.6" y="235.5" width="172.7" height="128.9" fill="none" stroke="#000" stroke-width="0.4"/>
<line x1="507.6" y1="364.4" x2="507.6" y2="366.88" stroke="#000" stroke-width="0.4"/>
<text transform="translate(507.6,373.57) scale(1,1.12)" font-family="'DejaVu Sans', 'Liberation Sans', sans-serif" font-size="7.55" text-anchor="middle" fill="#000" >0</text>
<line x1="542.14" y1="364.4" x2="542.14" y2="366.88" stroke="#000" stroke-width="0.4"/>
<text transform="translate(542.14,373.57) scale(1,1.12)" font-family="'DejaVu Sans', 'Liberation Sans', sans-serif" font-size="7.55" text-anchor="middle" fill="#000" >10</text>
<line x1="576.68" y1="364.4" x2="576.68" y2="366.88" stroke="#000" stroke-width="0.4"/>
<text transform="translate(576.68,373.57) scale(1,1.12)" font-family="'DejaVu Sans', 'Liberation Sans', sans-serif" font-size="7.55" text-anchor="middle" fill="#000" >20</text>
<line x1="611.22" y1="364.4" x2="611.22" y2="366.88" stroke="#000" stroke-width="0.4"/>
<text transform="translate(611.22,373.57) scale(1,1.12)" font-family="'DejaVu Sans', 'Liberation Sans', sans-serif" font-size="7.55" text-anchor="middle" fill="#000" >30</text>
<line x1="645.76" y1="364.4" x2="645.76" y2="366.88" stroke="#000" stroke-width="0.4"/>
<text transform="translate(645.76,373.57) scale(1,1.12)" font-family="'DejaVu Sans', 'Liberation Sans', sans-serif" font-size="7.55" text-anchor="middle" fill="#000" >40</text>
<line x1="680.3" y1="364.4" x2="680.3" y2="366.88" stroke="#000" stroke-width="0.4"/>
<text transform="translate(680.3,373.57) scale(1,1.12)" font-family="'DejaVu Sans', 'Liberation Sans', sans-serif" font-size="7.55" text-anchor="middle" fill="#000" >50</text>
<line x1="505.12" y1="241.5" x2="507.6" y2="241.5" stroke="#000" stroke-width="0.4"/>
<text transform="translate(504.52,244.67) scale(1,1.12)" font-family="'DejaVu Sans', 'Liberation Sans', sans-serif" font-size="7.55" text-anchor="end" fill="#000" >0</text>
<line x1="505.12" y1="258.09" x2="507.6" y2="258.09" stroke="#000" stroke-width="0.4"/>
<text transform="translate(504.52,261.26) scale(1,1.12)" font-family="'DejaVu Sans', 'Liberation Sans', sans-serif" font-size="7.55" text-anchor="end" fill="#000" >−500</text>
<line x1="505.12" y1="274.67" x2="507.6" y2="274.67" stroke="#000" stroke-width="0.4"/>
<text transform="translate(504.52,277.84) scale(1,1.12)" font-family="'DejaVu Sans', 'Liberation Sans', sans-serif" font-size="7.55" text-anchor="end" fill="#000" >−1000</text>
<line x1="505.12" y1="291.26" x2="507.6" y2="291.26" stroke="#000" stroke-width="0.4"/>
<text transform="translate(504.52,294.43) scale(1,1.12)" font-family="'DejaVu Sans', 'Liberation Sans', sans-serif" font-size="7.55" text-anchor="end" fill="#000" >−1500</text>
<line x1="505.12" y1="307.84" x2="507.6" y2="307.84" stroke="#000" stroke-width="0.4"/>
<text transform="translate(504.52,311.01) scale(1,1.12)" font-family="'DejaVu Sans', 'Liberation Sans', sans-serif" font-size="7.55" text-anchor="end" fill="#000" >−2000</text>
<line x1="505.12" y1="324.43" x2="507.6" y2="324.43" stroke="#000" stroke-width="0.4"/>
<text transform="translate(504.52,327.6) scale(1,1.12)" font-family="'DejaVu Sans', 'Liberation Sans', sans-serif" font-size="7.55" text-anchor="end" fill="#000" >−2500</text>
<line x1="505.12" y1="341.01" x2="507.6" y2="341.01" stroke="#000" stroke-width="0.4"/>
<text transform="translate(504.52,344.18) scale(1,1.12)" font-family="'DejaVu Sans', 'Liberation Sans', sans-serif" font-size="7.55" text-anchor="end" fill="#000" >−3000</text>
<line x1="505.12" y1="357.6" x2="507.6" y2="357.6" stroke="#000" stroke-width="0.4"/>
<text transform="translate(504.52,360.77) scale(1,1.12)" font-family="'DejaVu Sans', 'Liberation Sans', sans-serif" font-size="7.55" text-anchor="end" fill="#000" >−3500</text>
<text x="593.95" y="382.1" font-family="'DejaVu Sans', 'Liberation Sans', sans-serif" font-size="7.74" text-anchor="middle" fill="#000" >Iterations</text>
<text transform="translate(475.2,299.95) rotate(-90) scale(1,1.0)" font-family="'DejaVu Sans', 'Liberation Sans', sans-serif" font-size="7.74" text-anchor="middle" fill="#000" >Theta Value</text>
<text x="593.95" y="233.2" font-family="'DejaVu Sans', 'Liberation Sans', sans-serif" font-size="8.55" text-anchor="middle" fill="#000" >Sphere Experiment: Theta Convergence</text>
<rect x="590.7" y="237.7" width="87" height="52.6" rx="1.43" fill="#fff" fill-opacity="0.8" stroke="#c8c8c8" stroke-width="0.7"/>
<line x1="592.4" y1="242.7" x2="605.1" y2="242.7" stroke="#1f77b4" stroke-width="0.7"/>
<text x="609.3" y="244.8" font-family="'DejaVu Sans', 'Liberation Sans', sans-serif" font-size="5.73" text-anchor="start" fill="#000" >RGCG-armijo</text>
<line x1="592.4" y1="251.2" x2="605.1" y2="251.2" stroke="#ff7f0e" stroke-width="0.7"/>
<text x="609.3" y="253.3" font-family="'DejaVu Sans', 'Liberation Sans', sans-serif" font-size="5.73" text-anchor="start" fill="#000" >RGCG-adaptive</text>
<line x1="592.4" y1="259.4" x2="605.1" y2="259.4" stroke="#2ca02c" stroke-width="0.7"/>
<text x="609.3" y="261.5" font-family="'DejaVu Sans', 'Liberation Sans', sans-serif" font-size="5.73" text-anchor="start" fill="#000" >RGCG-diminishing</text>
<line x1="592.4" y1="267.9" x2="605.1" y2="267.9" stroke="#d62728" stroke-width="0.7"/>
<text x="609.3" y="270" font-family="'DejaVu Sans', 'Liberation Sans', sans-serif" font-size="5.73" text-anchor="start" fill="#000" >accelerate-diminishing</text>
<line x1="592.4" y1="276.7" x2="605.1" y2="276.7" stroke="#9467bd" stroke-width="0.7"/>
<text x="609.3" y="278.8" font-family="'DejaVu Sans', 'Liberation Sans', sans-serif" font-size="5.73" text-anchor="start" fill="#000" >accelerate-adaptive</text>
<line x1="592.4" y1="284.9" x2="605.1" y2="284.9" stroke="#8c564b" stroke-width="0.7"/>
<text x="609.3" y="287" font-family="'DejaVu Sans', 'Liberation Sans', sans-serif" font-size="5.73" text-anchor="start" fill="#000" >accelerate-armijo</text>
</g>
<text x="12.26" y="191.9" font-family="'Liberation Serif', serif" font-size="14.8" text-anchor="start" fill="#000" textLength="20.47" lengthAdjust="spacingAndGlyphs" >(a)</text>
<text x="39.5" y="191.9" font-family="'Liberation Serif', serif" font-size="14.8" text-anchor="start" fill="#000" textLength="58.99" lengthAdjust="spacingAndGlyphs" >Function</text>
<text x="105.6" y="191.9" font-family="'Liberation Serif', serif" font-size="14.8" text-anchor="start" fill="#000" textLength="38.9" lengthAdjust="spacingAndGlyphs" >value,</text>
<text x="150.27" y="191.9" font-family="'Liberation Serif', serif" font-size="13" text-anchor="start" fill="#000" textLength="9.86" lengthAdjust="spacingAndGlyphs"  font-style="italic">n</text>
<text transform="translate(164.43,193.8) scale(1,1.3)" font-family="'Liberation Serif', serif" font-size="14.8" text-anchor="start" fill="#000" textLength="12.12" lengthAdjust="spacingAndGlyphs" >=</text>
<text transform="translate(181.24,192.4) scale(1,1.07)" font-family="'Liberation Serif', serif" font-size="14.8" text-anchor="start" fill="#000" textLength="16.21" lengthAdjust="spacingAndGlyphs" >10</text>
<text x="242.48" y="191.9" font-family="'Liberation Serif', serif" font-size="14.8" text-anchor="start" fill="#000" textLength="20.94" lengthAdjust="spacingAndGlyphs" >(b)</text>
<text x="270.2" y="191.9" font-family="'Liberation Serif', serif" font-size="14.8" text-anchor="start" fill="#000" textLength="59.19" lengthAdjust="spacingAndGlyphs" >Function</text>
<text x="336.6" y="191.9" font-family="'Liberation Serif', serif" font-size="14.8" text-anchor="start" fill="#000" textLength="38.79" lengthAdjust="spacingAndGlyphs" >value,</text>
<text x="381.99" y="191.9" font-family="'Liberation Serif', serif" font-size="13" text-anchor="start" fill="#000" textLength="9.21" lengthAdjust="spacingAndGlyphs"  font-style="italic">n</text>
<text transform="translate(397.09,193.8) scale(1,1.3)" font-family="'Liberation Serif', serif" font-size="14.8" text-anchor="start" fill="#000" textLength="10.32" lengthAdjust="spacingAndGlyphs" >=</text>
<text transform="translate(412.31,192.4) scale(1,1.07)" font-family="'Liberation Serif', serif" font-size="14.8" text-anchor="start" fill="#000" textLength="23.21" lengthAdjust="spacingAndGlyphs" >100</text>
<text x="473.83" y="191.9" font-family="'Liberation Serif', serif" font-size="14.8" text-anchor="start" fill="#000" textLength="18.53" lengthAdjust="spacingAndGlyphs" >(c)</text>
<text x="499.7" y="191.9" font-family="'Liberation Serif', serif" font-size="14.8" text-anchor="start" fill="#000" textLength="59.5" lengthAdjust="spacingAndGlyphs" >Function</text>
<text x="566.4" y="191.9" font-family="'Liberation Serif', serif" font-size="14.8" text-anchor="start" fill="#000" textLength="39.1" lengthAdjust="spacingAndGlyphs" >value,</text>
<text x="611.07" y="191.9" font-family="'Liberation Serif', serif" font-size="13" text-anchor="start" fill="#000" textLength="9.96" lengthAdjust="spacingAndGlyphs"  font-style="italic">n</text>
<text transform="translate(626.31,193.8) scale(1,1.3)" font-family="'Liberation Serif', serif" font-size="14.8" text-anchor="start" fill="#000" textLength="11.16" lengthAdjust="spacingAndGlyphs" >=</text>
<text transform="translate(641.44,192.4) scale(1,1.07)" font-family="'Liberation Serif', serif" font-size="14.8" text-anchor="start" fill="#000" textLength="32.41" lengthAdjust="spacingAndGlyphs" >1000</text>
<text x="22.02" y="411.1" font-family="'Liberation Serif', serif" font-size="14.8" text-anchor="start" fill="#000" textLength="19.76" lengthAdjust="spacingAndGlyphs" >(d)</text>
<text x="49.95" y="411.1" font-family="'Liberation Serif', serif" font-size="14.8" text-anchor="start" fill="#000" textLength="40.04" lengthAdjust="spacingAndGlyphs" >Theta</text>
<text x="96.4" y="411.1" font-family="'Liberation Serif', serif" font-size="14.8" text-anchor="start" fill="#000" textLength="39.1" lengthAdjust="spacingAndGlyphs" >value,</text>
<text x="141.36" y="411.1" font-family="'Liberation Serif', serif" font-size="13" text-anchor="start" fill="#000" textLength="10.29" lengthAdjust="spacingAndGlyphs"  font-style="italic">n</text>
<text transform="translate(156.39,413) scale(1,1.3)" font-family="'Liberation Serif', serif" font-size="14.8" text-anchor="start" fill="#000" textLength="11.4" lengthAdjust="spacingAndGlyphs" >=</text>
<text transform="translate(171.2,411.6) scale(1,1.07)" font-family="'Liberation Serif', serif" font-size="14.8" text-anchor="start" fill="#000" textLength="16.67" lengthAdjust="spacingAndGlyphs" >10</text>
<text x="253.34" y="411.1" font-family="'Liberation Serif', serif" font-size="14.8" text-anchor="start" fill="#000" textLength="18.21" lengthAdjust="spacingAndGlyphs" >(e)</text>
<text x="279.35" y="411.1" font-family="'Liberation Serif', serif" font-size="14.8" text-anchor="start" fill="#000" textLength="40.35" lengthAdjust="spacingAndGlyphs" >Theta</text>
<text x="326.1" y="411.1" font-family="'Liberation Serif', serif" font-size="14.8" text-anchor="start" fill="#000" textLength="39" lengthAdjust="spacingAndGlyphs" >value,</text>
<text x="370.76" y="411.1" font-family="'Liberation Serif', serif" font-size="13" text-anchor="start" fill="#000" textLength="10.29" lengthAdjust="spacingAndGlyphs"  font-style="italic">n</text>
<text transform="translate(385.98,413) scale(1,1.3)" font-family="'Liberation Serif', serif" font-size="14.8" text-anchor="start" fill="#000" textLength="11.52" lengthAdjust="spacingAndGlyphs" >=</text>
<text transform="translate(400.4,411.6) scale(1,1.07)" font-family="'Liberation Serif', serif" font-size="14.8" text-anchor="start" fill="#000" textLength="24.96" lengthAdjust="spacingAndGlyphs" >100</text>
<text x="484.3" y="411.1" font-family="'Liberation Serif', serif" font-size="14.8" text-anchor="start" fill="#000" textLength="17.37" lengthAdjust="spacingAndGlyphs" >(f)</text>
<text x="509.95" y="411.1" font-family="'Liberation Serif', serif" font-size="14.8" text-anchor="start" fill="#000" textLength="40.04" lengthAdjust="spacingAndGlyphs" >Theta</text>
<text x="556.1" y="411.1" font-family="'Liberation Serif', serif" font-size="14.8" text-anchor="start" fill="#000" textLength="39" lengthAdjust="spacingAndGlyphs" >value,</text>
<text x="600.76" y="411.1" font-family="'Liberation Serif', serif" font-size="13" text-anchor="start" fill="#000" textLength="10.29" lengthAdjust="spacingAndGlyphs"  font-style="italic">n</text>
<text transform="translate(615.98,413) scale(1,1.3)" font-family="'Liberation Serif', serif" font-size="14.8" text-anchor="start" fill="#000" textLength="11.52" lengthAdjust="spacingAndGlyphs" >=</text>
<text transform="translate(630.44,411.6) scale(1,1.07)" font-family="'Liberation Serif', serif" font-size="14.8" text-anchor="start" fill="#000" textLength="32.41" lengthAdjust="spacingAndGlyphs" >1000</text>
</svg>
</body></html>
